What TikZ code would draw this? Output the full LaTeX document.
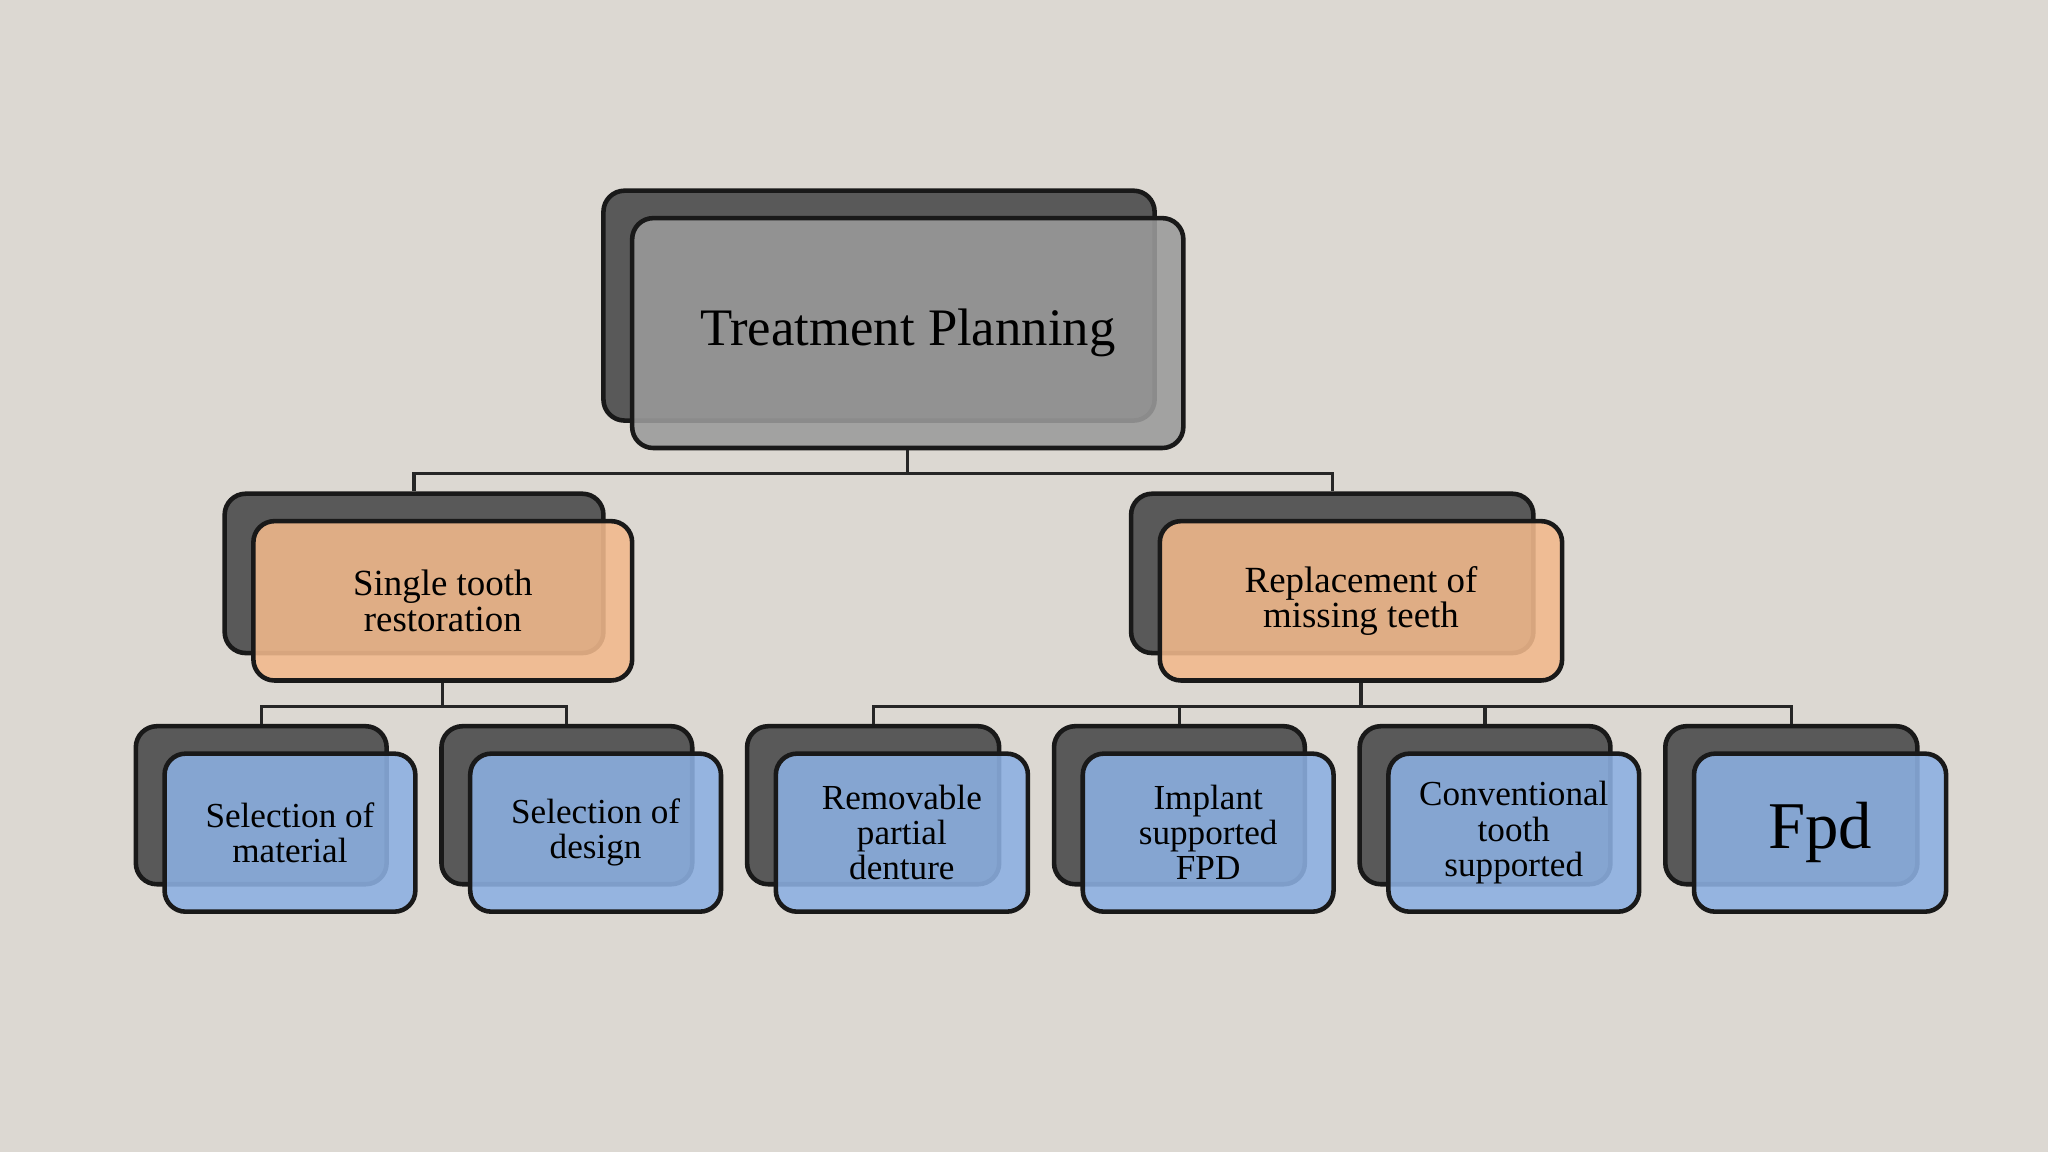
\documentclass[tikz,border=0pt]{standalone}
\usepackage{fontspec}
\setmainfont{Liberation Serif}
\begin{document}
\begin{tikzpicture}[x=0.01306cm,y=-0.01306cm,
  back/.style={draw=black!90,line width=1.3pt,rounded corners=6pt,fill=black!65},
  front/.style={draw=black!90,line width=1.3pt,rounded corners=6pt,fill opacity=0.88,text opacity=1,align=center,inner sep=0pt},
  con/.style={draw=black!85,line width=0.9pt},
  gray/.style={fill=black!38},
  orange/.style={fill=orange!40!brown!25!white,fill=orange!55!white!85!brown},
  blue/.style={fill=blue!30!cyan!30!white!80!black}]
\definecolor{bg}{HTML}{DCD8D2}
\definecolor{org}{HTML}{F2B98C}
\definecolor{blu}{HTML}{8CB0E2}
\definecolor{gry}{HTML}{9B9B9B}
\fill[bg] (0,0) rectangle (1568,882);
\newcommand{\card}[8]{% name x1 y1 x2 y2 color fontsize text
  \node[back,minimum width={(#4-#2)*0.01306cm},minimum height={(#5-#3)*0.01306cm}] (#1b) at ({(#2+#4)/2-22},{(#3+#5)/2-21}) {};
  \node[front,fill=#6,minimum width={(#4-#2)*0.01306cm},minimum height={(#5-#3)*0.01306cm},font=#7] (#1) at ({(#2+#4)/2},{(#3+#5)/2}) {#8};}
\card{top}{484}{167}{906}{343}{gry}{\fontsize{15}{17}\selectfont}{Treatment Planning}
\card{sl}{194}{399}{484}{521}{org}{\fontsize{10.5}{10}\selectfont}{Single tooth\\restoration}
\card{sr}{888}{399}{1196}{521}{org}{\fontsize{10.5}{10}\selectfont}{Replacement of\\missing teeth}
\card{b1}{126}{577}{318}{698}{blu}{\fontsize{10}{10}\selectfont}{Selection of\\material}
\card{b2}{360}{577}{552}{698}{blu}{\fontsize{10}{10}\selectfont}{Selection of\\design}
\card{b3}{594}{577}{787}{698}{blu}{\fontsize{10}{10}\selectfont}{Removable\\partial\\denture}
\card{b4}{829}{577}{1021}{698}{blu}{\fontsize{10}{10}\selectfont}{Implant\\supported\\FPD}
\card{b5}{1063}{577}{1255}{698}{blu}{\fontsize{10}{10}\selectfont}{Conventional\\tooth\\supported}
\card{b6}{1297}{577}{1490}{698}{blu}{\fontsize{19}{20}\selectfont}{Fpd}
\begin{scope}[on background layer/.style={}]
\draw[con] (top.south) -- ++(0,18) -| (slb.north);
\draw[con] (top.south) ++(0,18) -| (srb.north);
\draw[con] (sl.south) -- ++(0,18) -| (b1b.north);
\draw[con] (sl.south) ++(0,18) -| (b2b.north);
\draw[con] (sr.south) -- ++(0,18) -| (b3b.north);
\draw[con] (sr.south) ++(0,18) -| (b4b.north);
\draw[con] (sr.south) ++(0,18) -| (b5b.north);
\draw[con] (sr.south) ++(0,18) -| (b6b.north);
\end{scope}
\end{tikzpicture}
\end{document}
